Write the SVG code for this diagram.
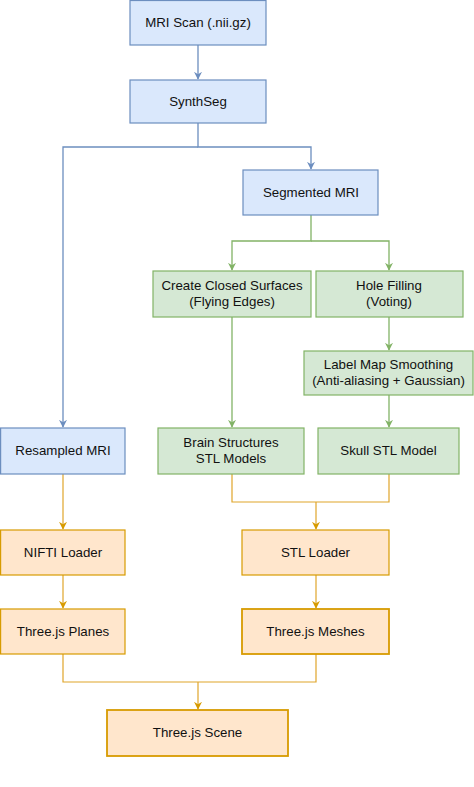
<svg xmlns="http://www.w3.org/2000/svg" width="474" height="787" viewBox="0 0 474 787">
<style>
.b{fill:#dae8fc;stroke:#6c8ebf;stroke-width:1.2}
.g{fill:#d5e8d4;stroke:#82b366;stroke-width:1.2}
.o{fill:#ffe6cc;stroke:#d79b00;stroke-width:1.2}
.ot{stroke-width:1.8}
text{font-family:"Liberation Sans",Arial,sans-serif;font-size:13.3px;fill:#111111;text-anchor:middle}
.lb{fill:none;stroke:#6c8ebf;stroke-width:1.3}
.lg{fill:none;stroke:#82b366;stroke-width:1.3}
.lo{fill:none;stroke:#e0a52a;stroke-width:1.2}
</style>
<defs>
<marker id="ab" viewBox="0 0 10 10" refX="9" refY="5" markerWidth="8" markerHeight="8" markerUnits="userSpaceOnUse" orient="auto"><path d="M0,0 L10,5 L0,10 L3,5 Z" fill="#6c8ebf"/></marker>
<marker id="ag" viewBox="0 0 10 10" refX="9" refY="5" markerWidth="8" markerHeight="8" markerUnits="userSpaceOnUse" orient="auto"><path d="M0,0 L10,5 L0,10 L3,5 Z" fill="#82b366"/></marker>
<marker id="ao" viewBox="0 0 10 10" refX="9" refY="5" markerWidth="8" markerHeight="8" markerUnits="userSpaceOnUse" orient="auto"><path d="M0,0 L10,5 L0,10 L3,5 Z" fill="#d79b00"/></marker>
</defs>
<rect width="474" height="787" fill="#ffffff"/>
<g id="connectors">
<path class="lb" d="M198,45 V79" marker-end="url(#ab)"/>
<path class="lb" d="M198,123 V147 H311 V169" marker-end="url(#ab)"/>
<path class="lb" d="M198,147 H63 V427" marker-end="url(#ab)"/>
<path class="lg" d="M311,215 V241 H232 V270" marker-end="url(#ag)"/>
<path class="lg" d="M311,241 H389 V270" marker-end="url(#ag)"/>
<path class="lg" d="M389,317 V350" marker-end="url(#ag)"/>
<path class="lg" d="M232,317 V427" marker-end="url(#ag)"/>
<path class="lg" d="M389,395 V427" marker-end="url(#ag)"/>
<path class="lo" d="M63,474 V529" marker-end="url(#ao)"/>
<path class="lo" d="M232,474 V502 H389 V474"/>
<path class="lo" d="M316,502 V529" marker-end="url(#ao)"/>
<path class="lo" d="M63,575 V608" marker-end="url(#ao)"/>
<path class="lo" d="M316,575 V608" marker-end="url(#ao)"/>
<path class="lo" d="M63,654 V682 H316 V654"/>
<path class="lo" d="M198,682 V709" marker-end="url(#ao)"/>
</g>
<g id="mri-scan"><rect class="b" x="130" y="0.5" width="136" height="44.5"/><text x="198" y="27">MRI Scan (.nii.gz)</text></g>
<g id="synthseg"><rect class="b" x="130" y="80" width="136" height="43"/><text x="198" y="106">SynthSeg</text></g>
<g id="segmented-mri"><rect class="b" x="243" y="170" width="135" height="45"/><text x="311" y="197">Segmented MRI</text></g>
<g id="closed-surfaces"><rect class="g" x="153" y="271" width="158" height="46"/><text x="232" y="290">Create Closed Surfaces</text><text x="232" y="306">(Flying Edges)</text></g>
<g id="hole-filling"><rect class="g" x="316" y="271" width="147" height="46"/><text x="389" y="290">Hole Filling</text><text x="389" y="306">(Voting)</text></g>
<g id="label-map"><rect class="g" x="304" y="351" width="169" height="44"/><text x="388.5" y="369">Label Map Smoothing</text><text x="388.5" y="385">(Anti-aliasing + Gaussian)</text></g>
<g id="resampled-mri"><rect class="b" x="0.6" y="428" width="124.4" height="46"/><text x="63" y="455">Resampled MRI</text></g>
<g id="brain-stl"><rect class="g" x="158" y="428" width="146" height="46"/><text x="231" y="447">Brain Structures</text><text x="231" y="463">STL Models</text></g>
<g id="skull-stl"><rect class="g" x="318" y="428" width="141" height="46"/><text x="388.5" y="455">Skull STL Model</text></g>
<g id="nifti-loader"><rect class="o" x="0.6" y="530" width="124.4" height="45"/><text x="63" y="557">NIFTI Loader</text></g>
<g id="stl-loader"><rect class="o" x="242" y="530" width="147" height="45"/><text x="315.5" y="557">STL Loader</text></g>
<g id="threejs-planes"><rect class="o" x="0.6" y="609" width="124.4" height="45"/><text x="63" y="636">Three.js Planes</text></g>
<g id="threejs-meshes"><rect class="o ot" x="242" y="609" width="147" height="45"/><text x="315.5" y="636">Three.js Meshes</text></g>
<g id="threejs-scene"><rect class="o ot" x="107" y="710" width="181" height="46"/><text x="197.5" y="737">Three.js Scene</text></g>
</svg>
